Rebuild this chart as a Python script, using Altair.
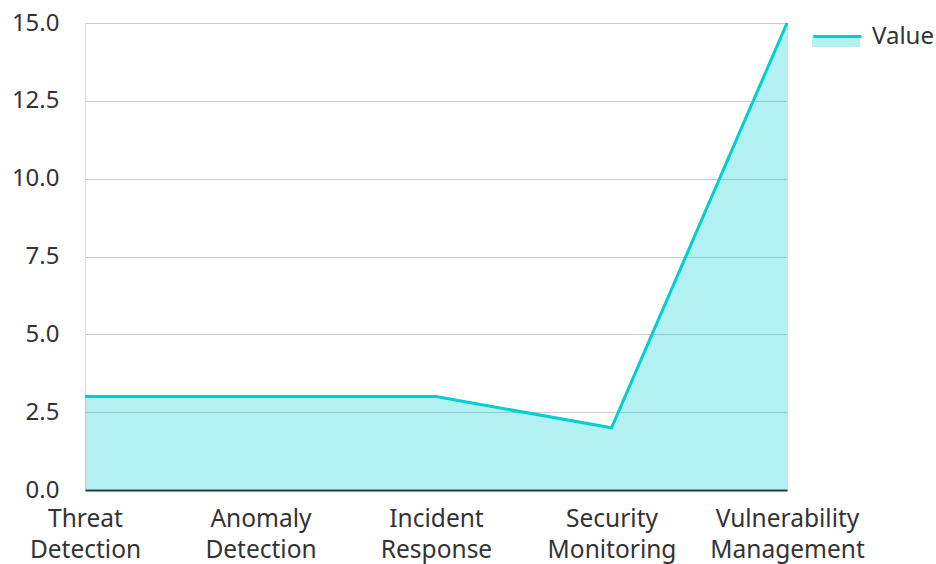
import altair as alt
import pandas as pd

categories = ["Threat Detection", "Anomaly Detection", "Incident Response",
              "Security Monitoring", "Vulnerability Management"]
values = [3, 3, 3, 2, 15]
series_name = "Value"
y_ticks = [0, 2.5, 5, 7.5, 10, 12.5, 15]

df = pd.DataFrame({
    "category": categories,
    "value": values,
    "series": [series_name] * len(categories),
    "series2": [series_name] * len(categories),
})

FONT = "Noto Sans"
TEAL = "#00CED1"
FS = 24

x = alt.X(
    "category:N", sort=categories,
    scale=alt.Scale(type="point", padding=0),
    axis=alt.Axis(title=None, labelAngle=0, labelExpr="split(datum.label, ' ')",
                  domainColor="#333333", domainWidth=2, ticks=False,
                  labelFontSize=24.5, labelColor="#333333", labelPadding=17,
                  labelLineHeight=31, labelBaseline="top", grid=False,
                  labelFont=FONT),
)
y = alt.Y(
    "value:Q",
    scale=alt.Scale(domain=[0, 15], nice=False),
    axis=alt.Axis(title=None, values=y_ticks, format=".1f", domain=False,
                  ticks=False, labelPadding=26, labelFontSize=FS,
                  labelColor="#333333", gridColor="#cccccc", gridWidth=1,
                  labelFont=FONT),
)

area = alt.Chart(df).mark_area(fillOpacity=0.3).encode(
    x=x, y=y,
    fill=alt.Fill("series:N", scale=alt.Scale(range=[TEAL]),
                  legend=alt.Legend(title=None, orient="none", legendX=727, legendY=-12,
                                    padding=0,
                                    symbolType="M-1,0 L1,0 L1,0.5 L-1,0.5 Z",
                                    symbolSize=2304, symbolStrokeWidth=0,
                                    symbolOpacity=0.3, labelExpr="''",
                                    labelFontSize=FS, labelOffset=9,
                                    labelFont=FONT)),
)
line = alt.Chart(df).mark_line(strokeWidth=3).encode(
    x=x, y=y,
    stroke=alt.Stroke("series2:N", scale=alt.Scale(range=[TEAL]),
                      legend=alt.Legend(title=None, orient="none", legendX=727, legendY=-12,
                                        padding=0, symbolType="stroke",
                                        symbolSize=2304, symbolStrokeWidth=3,
                                        labelFontSize=FS, labelColor="#333333",
                                        labelOffset=9, labelFont=FONT)),
)

chart = alt.layer(area, line).resolve_scale(fill="independent", stroke="independent").properties(
    width=702, height=467,
    autosize=alt.AutoSizeParams(type="none"),
    padding={"left": 85, "top": 23, "right": 149, "bottom": 74},
).configure_view(stroke=None).configure(font=FONT)

chart.save("out.html", embed_options={"renderer": "svg", "actions": False})
